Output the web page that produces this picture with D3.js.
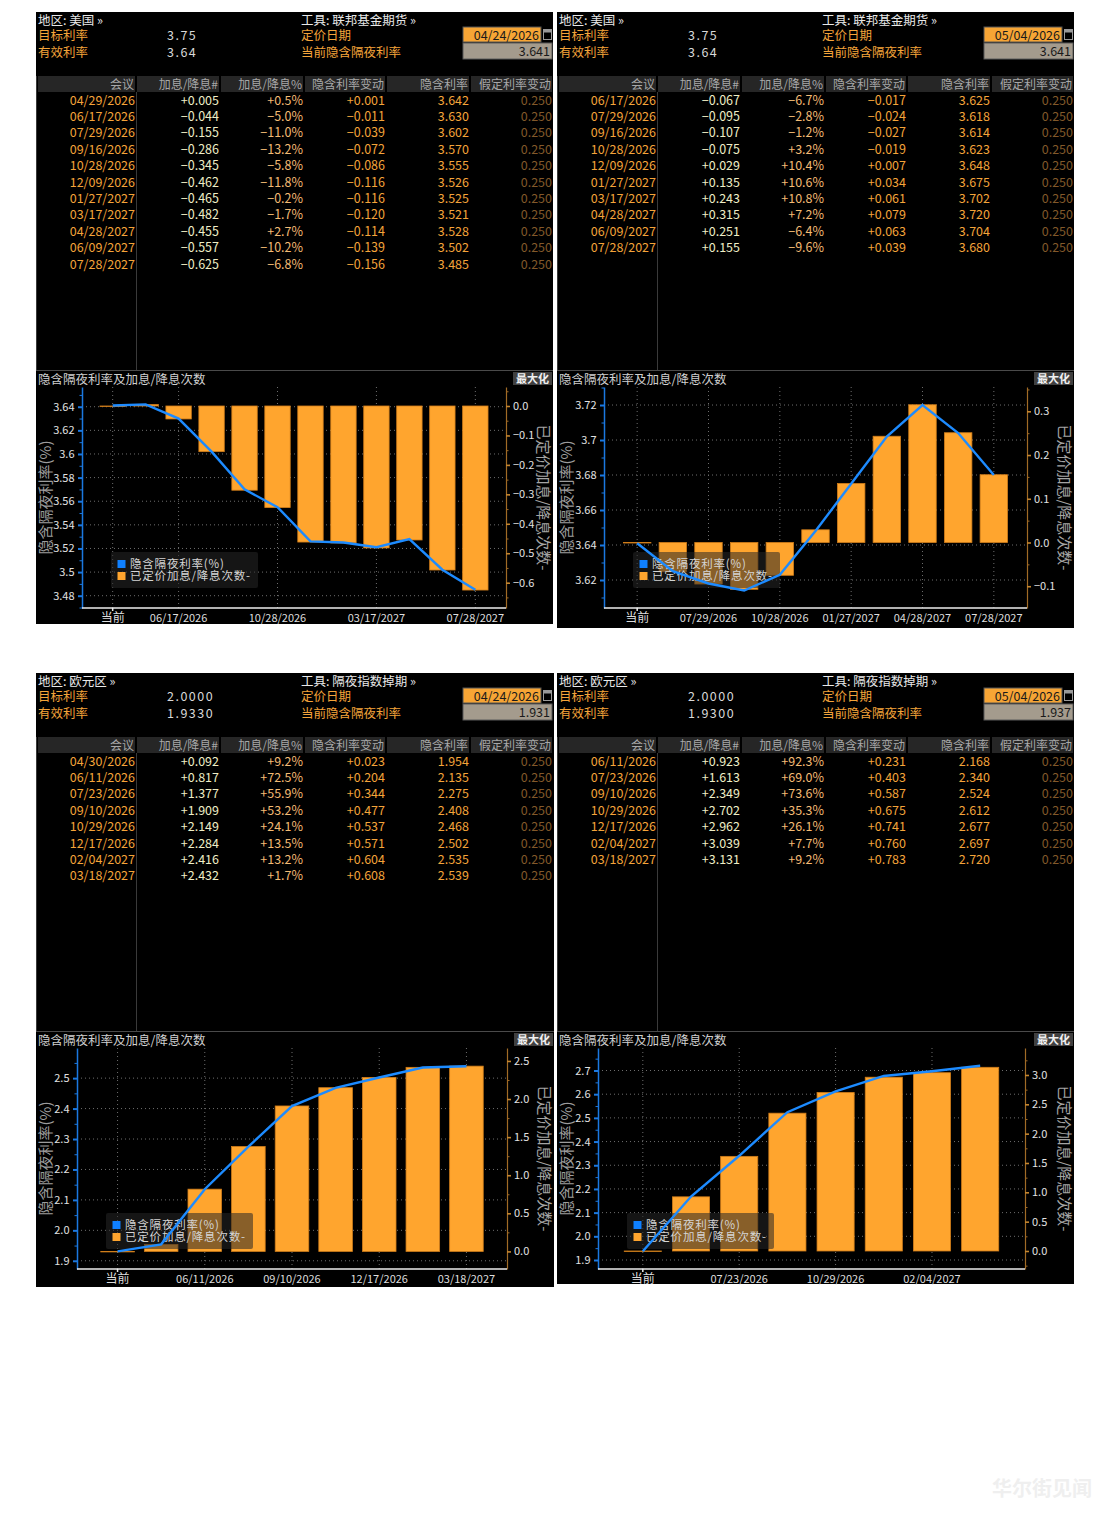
<!DOCTYPE html>
<html>
<head>
<meta charset="utf-8">
<script src="https://cdn.jsdelivr.net/npm/d3@7"></script>
<style>
body { margin: 0; background: #fff; }
svg { display: block; }
text { font-family: "Noto Sans CJK SC", "Noto Sans", sans-serif; }
</style>
</head>
<body>
<svg id="canvas"></svg>
<script>
// ---- data: US fed funds futures, priced 04/24/2026
const p1Meetings = ['04/29/2026', '06/17/2026', '07/29/2026', '09/16/2026', '10/28/2026', '12/09/2026',
    '01/27/2027', '03/17/2027', '04/28/2027', '06/09/2027', '07/28/2027']
const p1Hikes = [0.005, -0.044, -0.155, -0.286, -0.345, -0.462, -0.465, -0.482, -0.455, -0.557, -0.625]
const p1HikePct = [0.5, -5.0, -11.0, -13.2, -5.8, -11.8, -0.2, -1.7, 2.7, -10.2, -6.8]
const p1RateChg = [0.001, -0.011, -0.039, -0.072, -0.086, -0.116, -0.116, -0.120, -0.114, -0.139, -0.156]
const p1Implied = [3.642, 3.630, 3.602, 3.570, 3.555, 3.526, 3.525, 3.521, 3.528, 3.502, 3.485]
const p1TickLabels = ['当前', '06/17/2026', '10/28/2026', '03/17/2027', '07/28/2027']

// ---- data: US fed funds futures, priced 05/04/2026
const p2Meetings = ['06/17/2026', '07/29/2026', '09/16/2026', '10/28/2026', '12/09/2026', '01/27/2027',
    '03/17/2027', '04/28/2027', '06/09/2027', '07/28/2027']
const p2Hikes = [-0.067, -0.095, -0.107, -0.075, 0.029, 0.135, 0.243, 0.315, 0.251, 0.155]
const p2HikePct = [-6.7, -2.8, -1.2, 3.2, 10.4, 10.6, 10.8, 7.2, -6.4, -9.6]
const p2RateChg = [-0.017, -0.024, -0.027, -0.019, 0.007, 0.034, 0.061, 0.079, 0.063, 0.039]
const p2Implied = [3.625, 3.618, 3.614, 3.623, 3.648, 3.675, 3.702, 3.720, 3.704, 3.680]
const p2TickLabels = ['当前', '07/29/2026', '10/28/2026', '01/27/2027', '04/28/2027', '07/28/2027']

// ---- data: euro area OIS, priced 04/24/2026
const p3Meetings = ['04/30/2026', '06/11/2026', '07/23/2026', '09/10/2026', '10/29/2026', '12/17/2026',
    '02/04/2027', '03/18/2027']
const p3Hikes = [0.092, 0.817, 1.377, 1.909, 2.149, 2.284, 2.416, 2.432]
const p3HikePct = [9.2, 72.5, 55.9, 53.2, 24.1, 13.5, 13.2, 1.7]
const p3RateChg = [0.023, 0.204, 0.344, 0.477, 0.537, 0.571, 0.604, 0.608]
const p3Implied = [1.954, 2.135, 2.275, 2.408, 2.468, 2.502, 2.535, 2.539]
const p3TickLabels = ['当前', '06/11/2026', '09/10/2026', '12/17/2026', '03/18/2027']

// ---- data: euro area OIS, priced 05/04/2026
const p4Meetings = ['06/11/2026', '07/23/2026', '09/10/2026', '10/29/2026', '12/17/2026', '02/04/2027',
    '03/18/2027']
const p4Hikes = [0.923, 1.613, 2.349, 2.702, 2.962, 3.039, 3.131]
const p4HikePct = [92.3, 69.0, 73.6, 35.3, 26.1, 7.7, 9.2]
const p4RateChg = [0.231, 0.403, 0.587, 0.675, 0.741, 0.760, 0.783]
const p4Implied = [2.168, 2.340, 2.524, 2.612, 2.677, 2.697, 2.720]
const p4TickLabels = ['当前', '07/23/2026', '10/29/2026', '02/04/2027']

const tableHeaders = ['会议', '加息/降息#', '加息/降息%', '隐含利率变动', '隐含利率', '假定利率变动']
const assumedChg = 0.250

const ORANGE = '#f4a43a'
const BAR = '#ffa52e'
const BLUE = '#1d8bff'
const NUM_FONT = '"Liberation Sans", Arial, sans-serif'

const svg = d3.select('#canvas').attr('width', 1108).attr('height', 1536)

const panels = [
    { x0: 36, y0: 12, w: 517, h: 612, lx: 46, rx: 470,
      region: '美国', tool: '联邦基金期货', target: '3.75', effective: '3.64', date: '04/24/2026', current: 3.641,
      meetings: p1Meetings, hikes: p1Hikes, pct: p1HikePct, chg: p1RateChg, implied: p1Implied, tickLabels: p1TickLabels,
      lDom: [3.4696, 3.6567], lStep: 0.02, rDom: [-0.686, 0.0645], rStep: 0.1, lFmt: '.2~f' },
    { x0: 557, y0: 12, w: 517, h: 616, lx: 47, rx: 470,
      region: '美国', tool: '联邦基金期货', target: '3.75', effective: '3.64', date: '05/04/2026', current: 3.641,
      meetings: p2Meetings, hikes: p2Hikes, pct: p2HikePct, chg: p2RateChg, implied: p2Implied, tickLabels: p2TickLabels,
      lDom: [3.604, 3.7303], lStep: 0.02, rDom: [-0.1498, 0.3556], rStep: 0.1, lFmt: '.2~f' },
    { x0: 36, y0: 673, w: 518, h: 614, lx: 41, rx: 471,
      region: '欧元区', tool: '隔夜指数掉期', target: '2.0000', effective: '1.9330', date: '04/24/2026', current: 1.931,
      meetings: p3Meetings, hikes: p3Hikes, pct: p3HikePct, chg: p3RateChg, implied: p3Implied, tickLabels: p3TickLabels,
      lDom: [1.873, 2.599], lStep: 0.1, rDom: [-0.231, 2.67], rStep: 0.5, lFmt: '.1f' },
    { x0: 557, y0: 673, w: 517, h: 611, lx: 41, rx: 468,
      region: '欧元区', tool: '隔夜指数掉期', target: '2.0000', effective: '1.9300', date: '05/04/2026', current: 1.937,
      meetings: p4Meetings, hikes: p4Hikes, pct: p4HikePct, chg: p4RateChg, implied: p4Implied, tickLabels: p4TickLabels,
      lDom: [1.862, 2.795], lStep: 0.1, rDom: [-0.307, 3.46], rStep: 0.5, lFmt: '.1f' }
]

// tick values between the domain ends, on a given step
const stepTicks = (dom, step) => {
    const out = []
    for (let k = Math.ceil(dom[0] / step - 1e-9); k * step <= dom[1] + 1e-9; k++) out.push(+(k * step).toFixed(4))
    return out
}

const drawHeader = (g, p) => {
    const txt = (x, y, s, fill, extra = {}) => {
        const t = g.append('text').attr('x', x).attr('y', y).text(s).attr('fill', fill).attr('font-size', 12.5)
        Object.entries(extra).forEach(([k, v]) => t.attr(k, v))
        return t
    }
    txt(2, 13, `地区: ${p.region} »`, '#e8e8e8')
    txt(2, 28, '目标利率', ORANGE)
    txt(2, 45, '有效利率', ORANGE)
    txt(131, 28, p.target, '#d8d8d8', { 'letter-spacing': 1.5 })
    txt(131, 45, p.effective, '#d8d8d8', { 'letter-spacing': 1.5 })
    txt(265, 13, `工具: ${p.tool} »`, '#e8e8e8')
    txt(265, 28, '定价日期', ORANGE)
    txt(265, 45, '当前隐含隔夜利率', ORANGE)

    g.append('rect').attr('x', 427).attr('y', 15).attr('width', 78).attr('height', 15)
        .attr('fill', '#f7a535').attr('stroke', '#555')
    txt(503, 27.5, p.date, '#1a1a1a', { 'text-anchor': 'end' })
    g.append('rect').attr('x', 507.5).attr('y', 17.5).attr('width', 8).attr('height', 10)
        .attr('fill', 'none').attr('stroke', '#999')
    g.append('rect').attr('x', 507.5).attr('y', 17.5).attr('width', 8).attr('height', 3).attr('fill', '#999')
    g.append('rect').attr('x', 427).attr('y', 31).attr('width', 89).attr('height', 16)
        .attr('fill', '#a49b8d').attr('stroke', '#5a5a5a')
    txt(514, 44, d3.format('.3f')(p.current), '#1a1a1a', { 'text-anchor': 'end' })
}

const drawTable = (g, p) => {
    const edges = [1, 100, 184, 268, 350, 434, 517]
    // header cells
    tableHeaders.forEach((h, i) => {
        g.append('rect').attr('x', edges[i] + 1).attr('y', 64)
            .attr('width', edges[i + 1] - edges[i] - 2).attr('height', 16).attr('fill', '#262626')
        g.append('text').attr('x', edges[i + 1] - 2).attr('y', 76.5).attr('text-anchor', 'end')
            .attr('font-size', 12).attr('fill', '#a8a8a8').text(h)
    })
    g.append('line').attr('x1', 100.5).attr('x2', 100.5).attr('y1', 80).attr('y2', 358).attr('stroke', '#3a3a3a')
    g.append('line').attr('x1', 0.5).attr('x2', 0.5).attr('y1', 64).attr('y2', 358).attr('stroke', '#3a3a3a')

    const rows = p.meetings.map((m, i) => [
        [m, ORANGE],
        [d3.format('+.3f')(p.hikes[i]), '#efeec6'],
        [d3.format('+.1f')(p.pct[i]) + '%', '#f3bb74'],
        [d3.format('+.3f')(p.chg[i]), ORANGE],
        [d3.format('.3f')(p.implied[i]), ORANGE],
        [d3.format('.3f')(assumedChg), '#82592a']
    ])
    g.selectAll('g.row').data(rows).enter().append('g')
        .attr('class', 'row')
        .attr('transform', (d, i) => `translate(0, ${92.5 + i * 16.4})`)
        .selectAll('text').data(d => d).enter().append('text')
            .attr('x', (d, j) => edges[j + 1] - 1)
            .attr('text-anchor', 'end')
            .attr('font-size', 12.5)
            .attr('fill', d => d[1])
            .text(d => d[0])
}

const drawChart = (g, p) => {
    // title bar
    g.append('line').attr('x1', 0).attr('x2', p.w).attr('y1', 358.5).attr('y2', 358.5).attr('stroke', '#4a4a4a')
    g.append('text').attr('x', 2).attr('y', 371.5).attr('font-size', 12.5).attr('fill', '#cfcfcf')
        .text('隐含隔夜利率及加息/降息次数')
    g.append('rect').attr('x', p.w - 40).attr('y', 360).attr('width', 39).attr('height', 13).attr('fill', '#404040')
    g.append('text').attr('x', p.w - 20.5).attr('y', 370.5).attr('text-anchor', 'middle')
        .attr('font-size', 11).attr('font-weight', 'bold').attr('fill', '#f0f0f0').text('最大化')

    const top = 375, bottom = 596, left = p.lx, right = p.rx
    const slots = [{ label: '当前', rate: p.current, hikes: 0 }]
        .concat(p.meetings.map((m, i) => ({ label: m, rate: p.implied[i], hikes: p.hikes[i] })))

    const xScale = d3.scalePoint().domain(d3.range(slots.length)).range([left, right]).padding(0.93)
    const bw = xScale.step() * 0.77
    const yL = d3.scaleLinear().domain(p.lDom).range([bottom, top])
    const yR = d3.scaleLinear().domain(p.rDom).range([bottom, top])

    const lMajor = stepTicks(p.lDom, p.lStep)
    const lMinor = stepTicks(p.lDom, p.lStep / 2).filter(v => !lMajor.some(m => Math.abs(m - v) < 1e-6))
    const rMajor = stepTicks(p.rDom, p.rStep)
    const rMinor = stepTicks(p.rDom, p.rStep / 2).filter(v => !rMajor.some(m => Math.abs(m - v) < 1e-6))
    const labelIdx = p.tickLabels.map(l => slots.findIndex(s => s.label === l))

    // dotted grid
    g.append('g').selectAll('line').data(lMajor).enter().append('line')
        .attr('x1', left).attr('x2', right).attr('y1', d => yL(d)).attr('y2', d => yL(d))
        .attr('stroke', '#6e6e6e').attr('stroke-dasharray', '1,3')
    g.append('g').selectAll('line').data(labelIdx).enter().append('line')
        .attr('x1', d => xScale(d)).attr('x2', d => xScale(d)).attr('y1', top).attr('y2', bottom)
        .attr('stroke', '#6e6e6e').attr('stroke-dasharray', '1,3')

    // bars
    g.append('g').selectAll('rect').data(slots).enter().append('rect')
        .attr('x', (d, i) => xScale(i) - bw / 2)
        .attr('y', d => yR(Math.max(0, d.hikes)))
        .attr('width', bw)
        .attr('height', d => Math.max(0.5, Math.abs(yR(d.hikes) - yR(0))))
        .attr('fill', BAR)
        .attr('stroke', '#d07d1a')
        .attr('stroke-width', 0.8)

    // legend
    const lg = g.append('g').attr('transform', `translate(${left + 29}, ${bottom - 56})`)
    lg.append('rect').attr('width', 147).attr('height', 36).attr('rx', 2).attr('fill', 'rgba(38,38,38,0.55)')
    const items = [['隐含隔夜利率(%)', '#0f80ff'], ['已定价加息/降息次数-', BAR]]
    items.forEach(([t, c], i) => {
        lg.append('rect').attr('x', 6.5).attr('y', 8 + i * 12).attr('width', 8).attr('height', 8).attr('fill', c)
        lg.append('text').attr('x', 19).attr('y', 16 + i * 12).attr('font-size', 11.5)
            .attr('fill', '#d4d4d4').attr('letter-spacing', 0.8).text(t)
    })

    // implied rate line
    g.append('path').datum(slots)
        .attr('d', d3.line().x((d, i) => xScale(i)).y(d => yL(d.rate)))
        .attr('fill', 'none').attr('stroke', BLUE).attr('stroke-width', 2.4)

    // left axis
    const la = g.append('g').attr('transform', `translate(${left}, 0)`)
        .call(d3.axisLeft(yL).tickValues(lMajor).tickSize(4).tickSizeOuter(0).tickPadding(3.5).tickFormat(d3.format(p.lFmt)))
    g.append('g').attr('transform', `translate(${left}, 0)`)
        .call(d3.axisLeft(yL).tickValues(lMinor).tickSize(2.5).tickSizeOuter(0).tickFormat(''))
        .call(a => a.select('.domain').remove())
        .selectAll('line').attr('stroke', '#1b78e0')
    la.select('.domain').attr('stroke', '#1b78e0').attr('stroke-width', 1.5)
    la.selectAll('line').attr('stroke', '#1b78e0').attr('stroke-width', 2)
    la.selectAll('text').attr('fill', '#e2e2e2').attr('font-size', 11).attr('font-family', NUM_FONT)

    // right axis
    const ra = g.append('g').attr('transform', `translate(${right}, 0)`)
        .call(d3.axisRight(yR).tickValues(rMajor).tickSize(4).tickSizeOuter(0).tickPadding(3).tickFormat(d3.format('.1f')))
    g.append('g').attr('transform', `translate(${right}, 0)`)
        .call(d3.axisRight(yR).tickValues(rMinor).tickSize(2.5).tickSizeOuter(0).tickFormat(''))
        .call(a => a.select('.domain').remove())
        .selectAll('line').attr('stroke', '#a06b26')
    ra.select('.domain').attr('stroke', '#a06b26').attr('stroke-width', 1.2)
    ra.selectAll('line').attr('stroke', '#c4852e').attr('stroke-width', 1.6)
    ra.selectAll('text').attr('fill', '#e2e2e2').attr('font-size', 11).attr('font-family', NUM_FONT)

    // axis titles
    const mid = (top + bottom) / 2
    g.append('text').attr('transform', `translate(8, ${mid}) rotate(-90)`).attr('text-anchor', 'middle')
        .attr('dominant-baseline', 'central').attr('font-size', 15).attr('fill', '#9c9c9c').text('隐含隔夜利率(%)')
    g.append('text').attr('transform', `translate(${p.w - 9}, ${mid}) rotate(90)`).attr('text-anchor', 'middle')
        .attr('dominant-baseline', 'central').attr('font-size', 15).attr('fill', '#a4a4a4').text('已定价加息/降息次数-')

    // bottom axis
    g.append('line').attr('x1', left).attr('x2', right).attr('y1', bottom).attr('y2', bottom)
        .attr('stroke', '#ededed').attr('stroke-width', 1.5)
    g.append('line').attr('x1', xScale(0)).attr('x2', xScale(0)).attr('y1', bottom).attr('y2', bottom + 3)
        .attr('stroke', '#ededed').attr('stroke-width', 1.5)
    g.append('g').selectAll('text').data(labelIdx).enter().append('text')
        .attr('x', d => xScale(d)).attr('y', bottom + 13.5).attr('text-anchor', 'middle')
        .attr('font-size', d => d === 0 ? 12 : 11).attr('fill', '#dedede')
        .attr('font-family', d => d === 0 ? null : NUM_FONT)
        .text(d => slots[d].label)
}

panels.forEach(p => {
    const g = svg.append('g').attr('transform', `translate(${p.x0}, ${p.y0})`)
    g.append('rect').attr('width', p.w).attr('height', p.h).attr('fill', '#000')
    drawHeader(g, p)
    drawTable(g, p)
    drawChart(g, p)
})

// faint watermark
svg.append('text').attr('x', 1092).attr('y', 1496).attr('text-anchor', 'end')
    .attr('font-size', 20).attr('font-weight', 'bold').attr('fill', '#efefef').text('华尔街见闻')
</script>
</body>
</html>
